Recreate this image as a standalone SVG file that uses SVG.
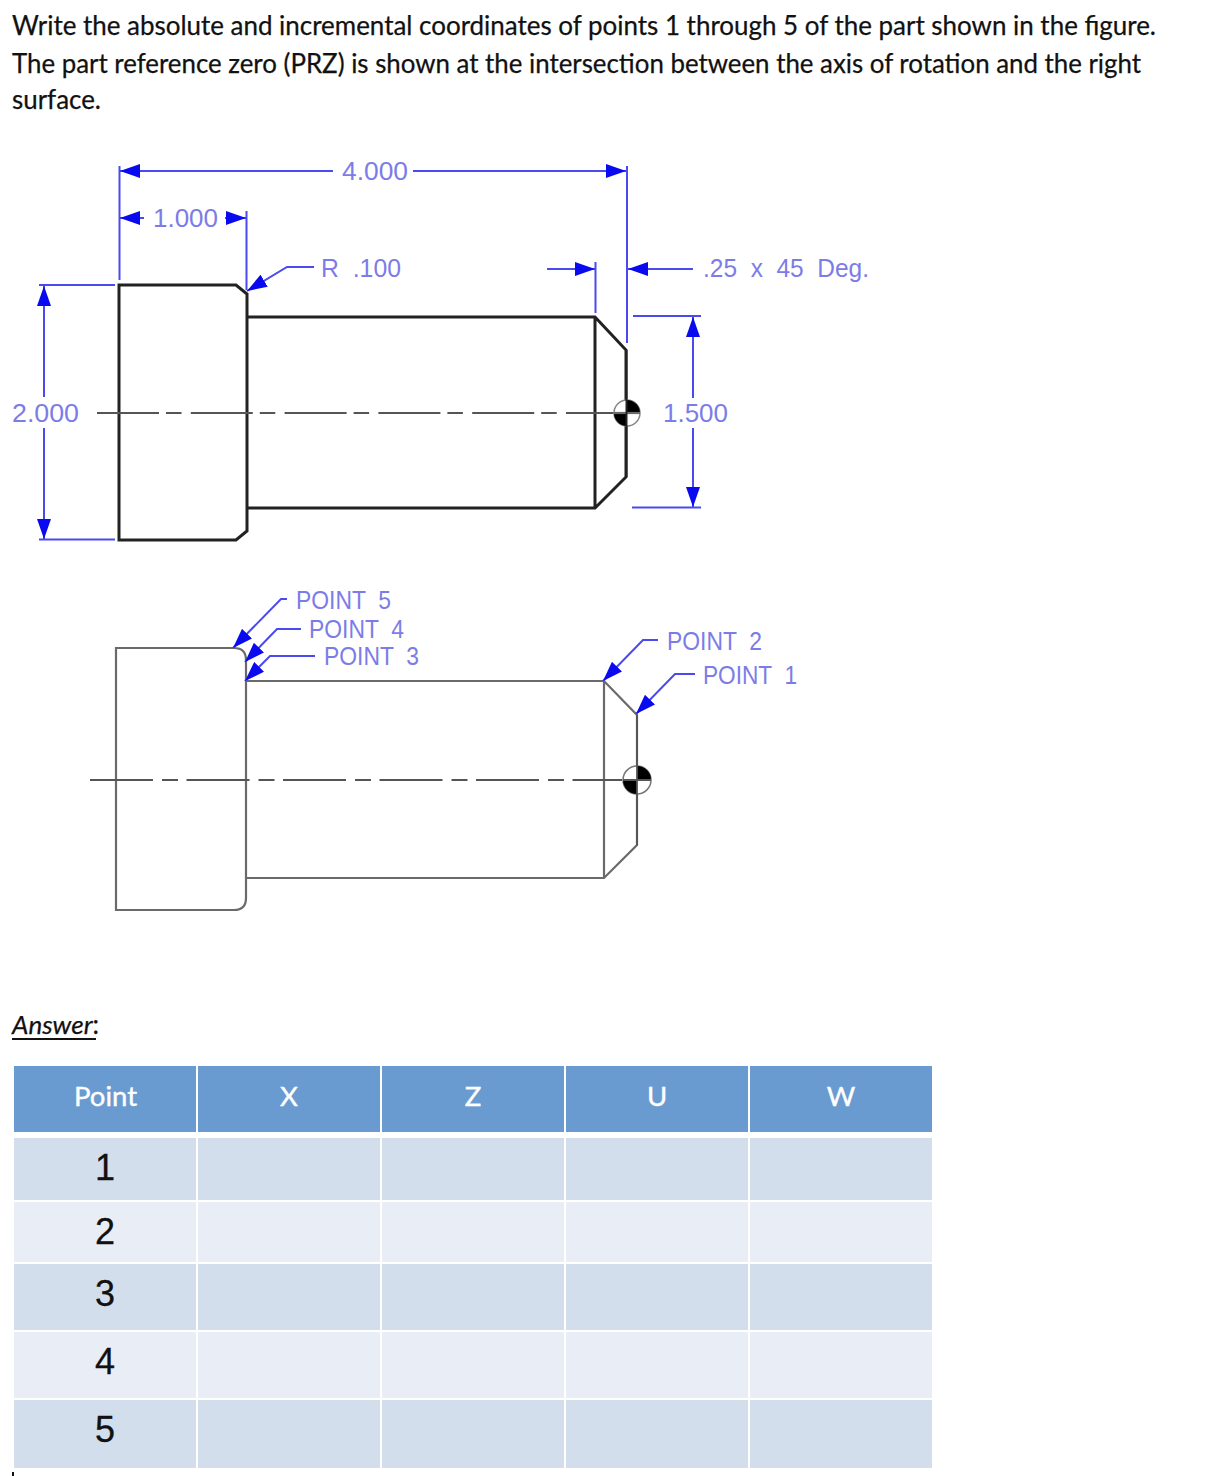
<svg xmlns="http://www.w3.org/2000/svg" width="1206" height="1476" viewBox="0 0 1206 1476">
<style>
.body{font-family:"Lato","Open Sans",sans-serif;font-size:26px;fill:#111;stroke:#111;stroke-width:.25}
.ink{fill:none;stroke:#222;stroke-width:3}
.ink2{fill:none;stroke:#6a6a6a;stroke-width:2.2}
.cl{fill:none;stroke:#555;stroke-width:1.800}
.dim{fill:none;stroke:#4a4af0;stroke-width:2}
.arr{fill:none;stroke:#4a4af0;stroke-width:2;marker-end:url(#head)}
.lbl{font-family:"Liberation Sans",sans-serif;font-size:25px;fill:#7c7ce8;word-spacing:7px}
.hdr{fill:#6a9bd0}.a{fill:#d3deec}.b{fill:#e9edf6}
.th{font-family:"Lato","Open Sans",sans-serif;font-size:27.500px;fill:#fff;stroke:#fff;stroke-width:.4;text-anchor:middle}
.td{font-family:"Liberation Sans",sans-serif;font-size:36px;fill:#111;stroke:#111;stroke-width:.3;text-anchor:middle}
</style>
<defs>
<marker id="head" markerUnits="userSpaceOnUse" markerWidth="22" markerHeight="14" refX="20" refY="7" orient="auto" viewBox="0 0 22 14"><path d="M0 0L20 7L0 14Z" fill="#0a0af0"/></marker>
</defs>
<rect width="1206" height="1476" fill="#fff"/>
<g id="question">
<text class="body" x="12" y="34.500" textLength="1144" lengthAdjust="spacingAndGlyphs">Write the absolute and incremental coordinates of points 1 through 5 of the part shown in the figure.</text>
<text class="body" x="12" y="72.500" textLength="1129" lengthAdjust="spacingAndGlyphs">The part reference zero (PRZ) is shown at the intersection between the axis of rotation and the right</text>
<text class="body" x="12" y="108.500" textLength="89" lengthAdjust="spacingAndGlyphs">surface.</text>
</g>
<g id="part-dimensioned">
<path class="ink" d="M119 285H236L247 294V531L236 540H119Z"/>
<path class="ink" d="M247 317H595L626 350V477L595 508H247M595 317V508"/>
<path class="cl" stroke-dasharray="62 7 15.500 9.300" d="M97 413H615"/>
<g id="prz-top"><circle cx="627" cy="413" r="13" fill="#fff" stroke="#888" stroke-width="1.500"/><path d="M627 413V400A13 13 0 0 1 640 413ZM627 413V426A13 13 0 0 1 614 413Z" fill="#000"/><path class="ink2" d="M614 413H640"/><path d="M626.500 350V477" stroke="#222" stroke-width="2"/></g>
</g>
<g id="dimensions">
<path class="dim" d="M119.500 166V280M246.500 211V290M627 166V343M595.500 262V313M39 285H115M39 539.500H115M633 316H701M632 507.500H701"/>
<path class="arr" d="M333 171H120"/><path class="arr" d="M413 171H626"/>
<path class="arr" d="M144 218H120"/><path class="arr" d="M225 218H246"/>
<path class="arr" d="M44 397V286"/><path class="arr" d="M44 428V539"/>
<path class="arr" d="M314 267H287L247 291"/>
<path class="arr" d="M547 269H595"/><path class="arr" d="M693 269H628"/>
<path class="arr" d="M693 398V317"/><path class="arr" d="M693 428V507"/>
<text class="lbl" x="342" y="180" textLength="66" lengthAdjust="spacingAndGlyphs">4.000</text>
<text class="lbl" x="153" y="227" textLength="65" lengthAdjust="spacingAndGlyphs">1.000</text>
<text class="lbl" x="321" y="277" textLength="80" lengthAdjust="spacingAndGlyphs">R .100</text>
<text class="lbl" x="703" y="277" textLength="166" lengthAdjust="spacingAndGlyphs">.25 x 45 Deg.</text>
<text class="lbl" x="12" y="422" textLength="67" lengthAdjust="spacingAndGlyphs">2.000</text>
<text class="lbl" x="663" y="422" textLength="65" lengthAdjust="spacingAndGlyphs">1.500</text>
</g>
<g id="part-points">
<path class="ink2" d="M116 648H234Q246 648 246 660V898Q246 910 234 910H116Z"/>
<path class="ink2" d="M246 681H604L637 715V845L604 878H246M604 681V878"/>
<path class="cl" stroke-dasharray="63 9 16 8.500" d="M90 780H622"/>
<g id="prz-bottom"><circle cx="637" cy="780" r="14" fill="#fff" stroke="#777" stroke-width="1.500"/><path d="M637 780V766A14 14 0 0 1 651 780ZM637 780V794A14 14 0 0 1 623 780Z" fill="#000"/><path d="M623 780H651M637 715V845" stroke="#555" stroke-width="1.800" fill="none"/></g>
</g>
<g id="point-5"><path class="arr" d="M287 599H281L233 648"/><text class="lbl" x="296" y="609" textLength="95" lengthAdjust="spacingAndGlyphs">POINT 5</text></g>
<g id="point-4"><path class="arr" d="M301 629H277L245 662"/><text class="lbl" x="309" y="638" textLength="95" lengthAdjust="spacingAndGlyphs">POINT 4</text></g>
<g id="point-3"><path class="arr" d="M315 656H270L245 681"/><text class="lbl" x="324" y="665" textLength="95" lengthAdjust="spacingAndGlyphs">POINT 3</text></g>
<g id="point-2"><path class="arr" d="M658 640H643L603 681"/><text class="lbl" x="667" y="650" textLength="95" lengthAdjust="spacingAndGlyphs">POINT 2</text></g>
<g id="point-1"><path class="arr" d="M695 674H675L636 714"/><text class="lbl" x="703" y="684" textLength="94" lengthAdjust="spacingAndGlyphs">POINT 1</text></g>
<g id="answer">
<text class="body" x="12" y="1033.500"><tspan font-style="italic">Answer</tspan>:</text>
<path d="M12 1039H96" stroke="#111" stroke-width="2" fill="none"/>
</g>
<g id="table">
<rect class="hdr" x="14" y="1066" width="182" height="66"/><rect class="hdr" x="198" y="1066" width="182" height="66"/><rect class="hdr" x="382" y="1066" width="182" height="66"/><rect class="hdr" x="566" y="1066" width="182" height="66"/><rect class="hdr" x="750" y="1066" width="182" height="66"/>
<text class="th" x="105.500" y="1105.500">Point</text><text class="th" x="289" y="1105.500">X</text><text class="th" x="473" y="1105.500">Z</text><text class="th" x="657" y="1105.500">U</text><text class="th" x="841" y="1105.500">W</text>
<g class="a"><rect x="14" y="1138" width="182" height="62"/><rect x="198" y="1138" width="182" height="62"/><rect x="382" y="1138" width="182" height="62"/><rect x="566" y="1138" width="182" height="62"/><rect x="750" y="1138" width="182" height="62"/></g>
<g class="b"><rect x="14" y="1202" width="182" height="60"/><rect x="198" y="1202" width="182" height="60"/><rect x="382" y="1202" width="182" height="60"/><rect x="566" y="1202" width="182" height="60"/><rect x="750" y="1202" width="182" height="60"/></g>
<g class="a"><rect x="14" y="1264" width="182" height="66"/><rect x="198" y="1264" width="182" height="66"/><rect x="382" y="1264" width="182" height="66"/><rect x="566" y="1264" width="182" height="66"/><rect x="750" y="1264" width="182" height="66"/></g>
<g class="b"><rect x="14" y="1332" width="182" height="66"/><rect x="198" y="1332" width="182" height="66"/><rect x="382" y="1332" width="182" height="66"/><rect x="566" y="1332" width="182" height="66"/><rect x="750" y="1332" width="182" height="66"/></g>
<g class="a"><rect x="14" y="1400" width="182" height="68"/><rect x="198" y="1400" width="182" height="68"/><rect x="382" y="1400" width="182" height="68"/><rect x="566" y="1400" width="182" height="68"/><rect x="750" y="1400" width="182" height="68"/></g>
<text class="td" x="105" y="1180">1</text><text class="td" x="105" y="1244">2</text><text class="td" x="105" y="1306">3</text><text class="td" x="105" y="1374">4</text><text class="td" x="105" y="1442">5</text>
<rect x="12" y="1472" width="2" height="4" fill="#111"/>
</g>
</svg>
